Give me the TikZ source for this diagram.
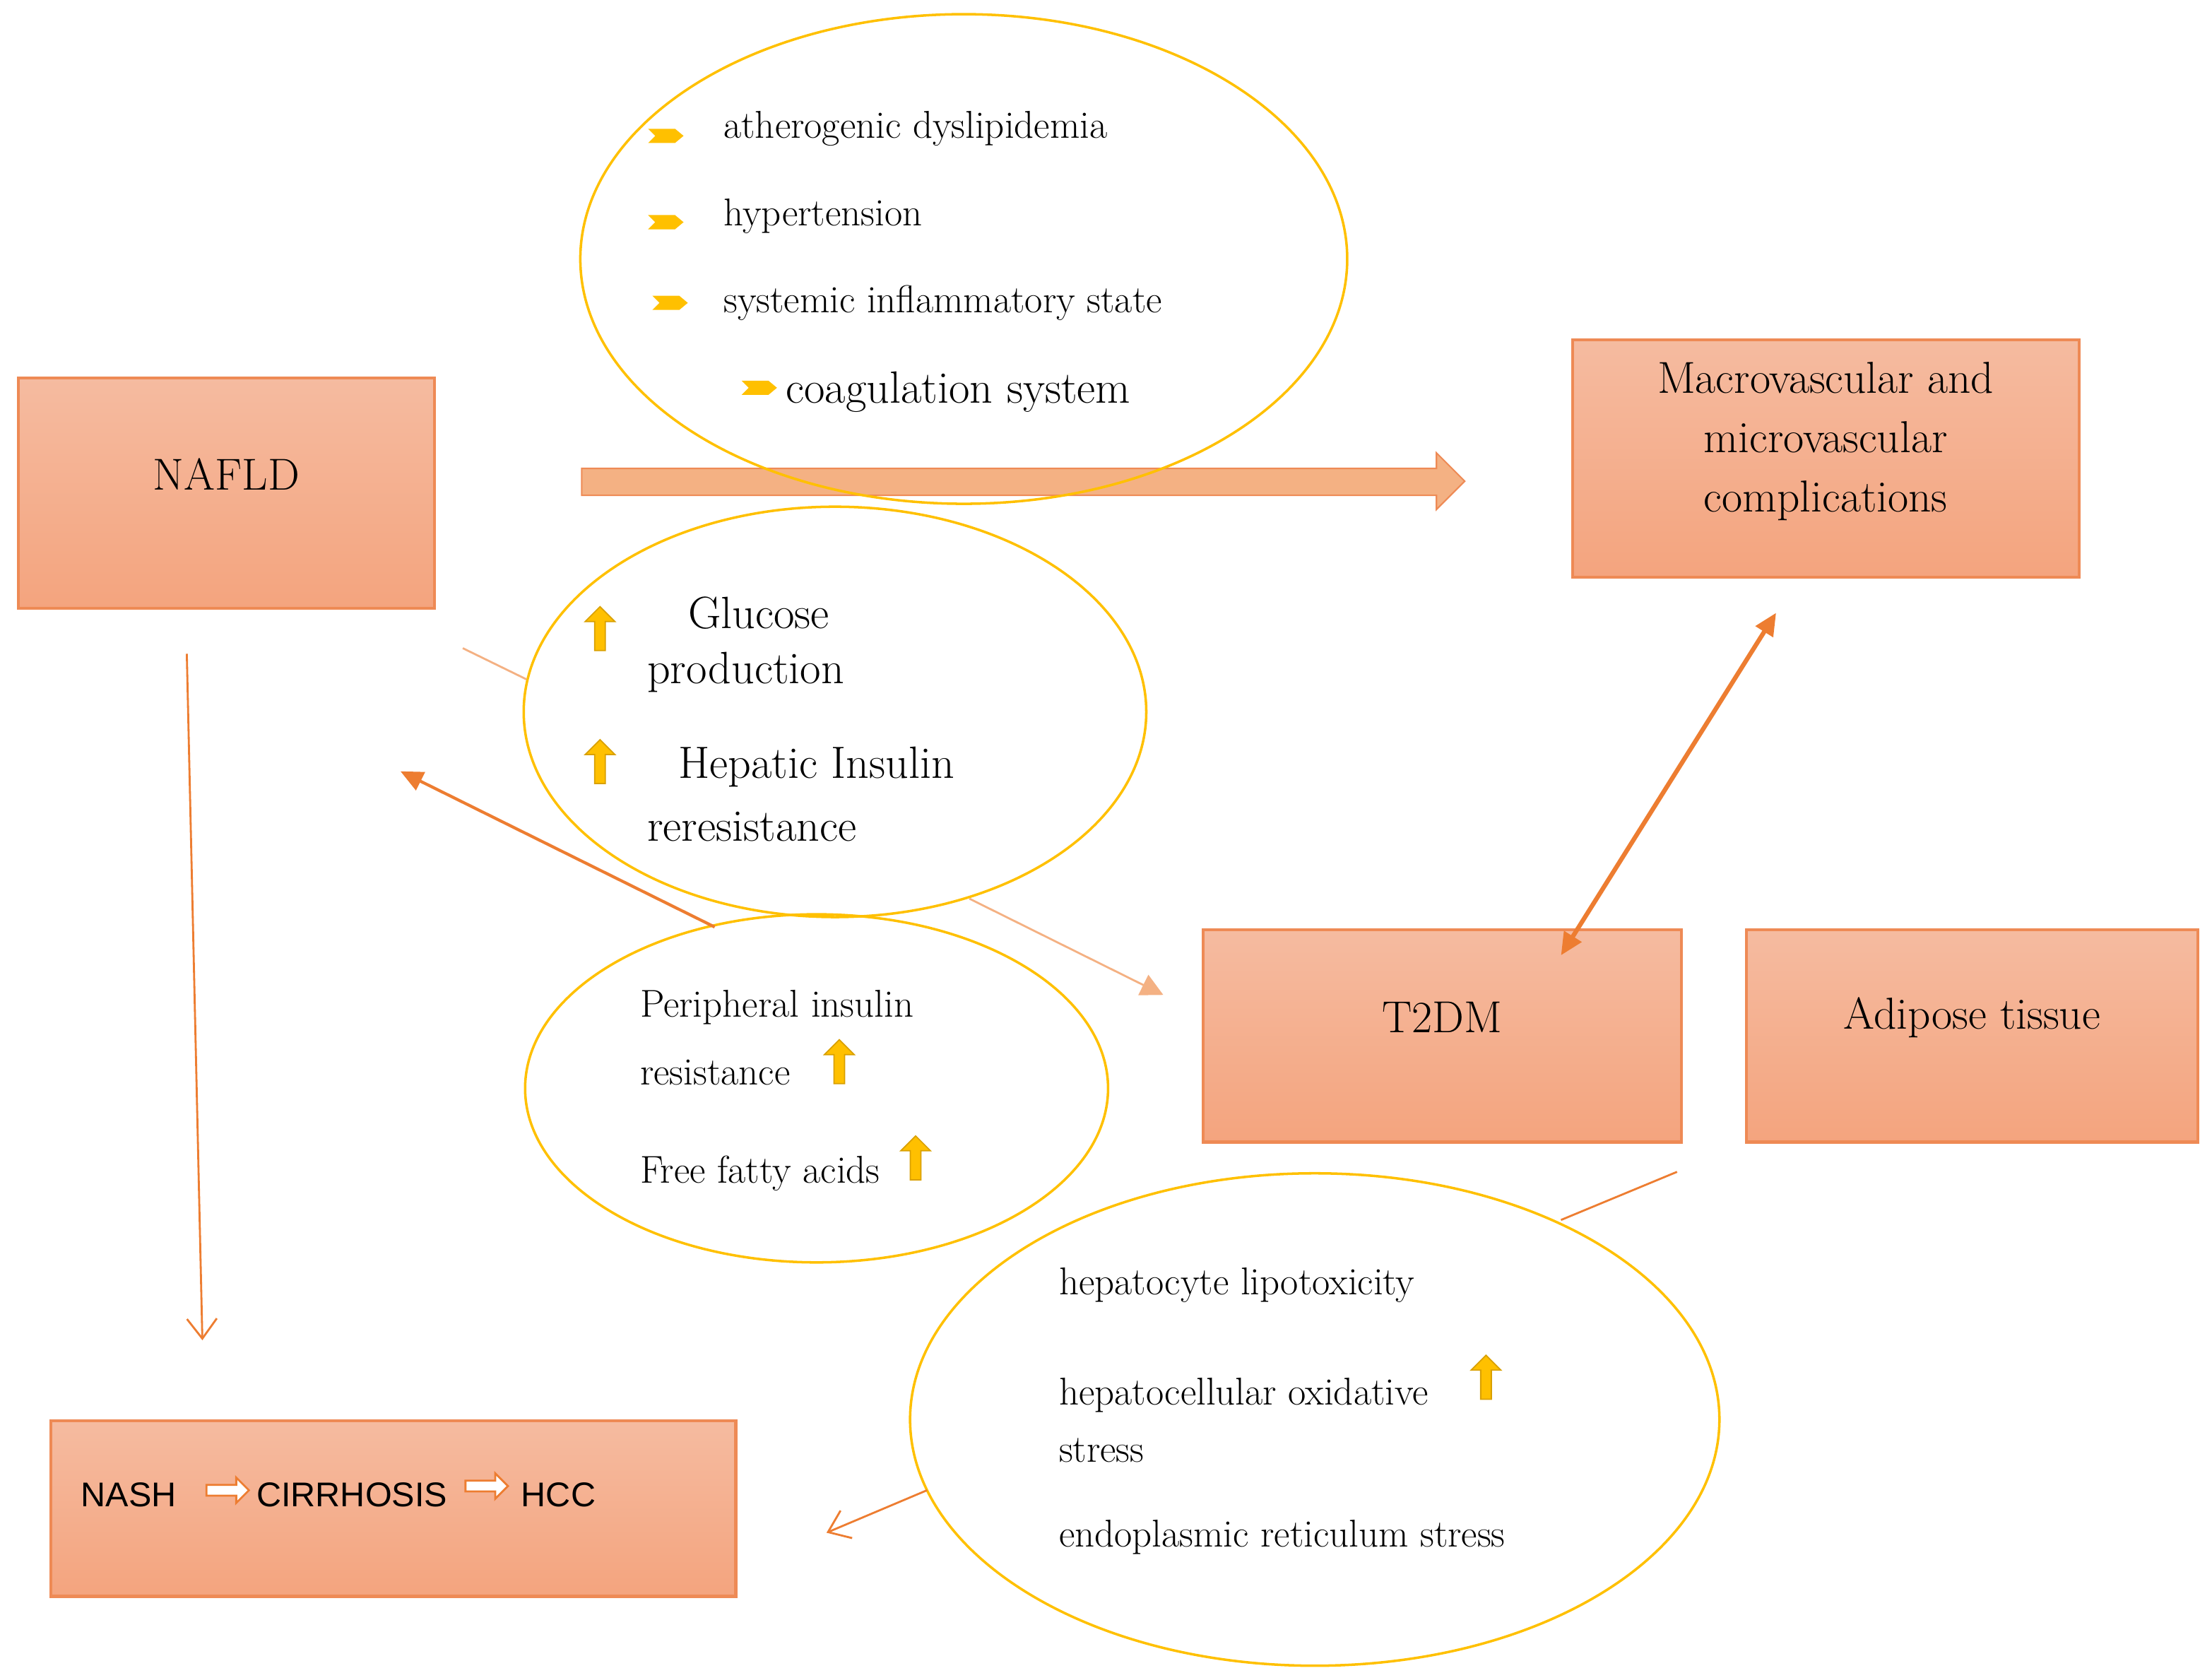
\documentclass[tikz,border=0pt]{standalone}
\usepackage{fontspec}
\newfontfamily\sansf{Liberation Sans}
\usetikzlibrary{shapes.geometric,shapes.arrows,arrows.meta}
\definecolor{box}{HTML}{F4A47E}
\definecolor{boxtop}{HTML}{F5BBA0}
\definecolor{boxline}{HTML}{EE8A55}
\definecolor{yel}{HTML}{FFC000}
\definecolor{yeld}{HTML}{D9A000}
\definecolor{ora}{HTML}{ED7D31}
\definecolor{lora}{HTML}{F4B183}
\begin{document}
\begin{tikzpicture}[x=0.02cm,y=-0.02cm,
 bx/.style={draw=boxline,line width=1.2pt,top color=boxtop,bottom color=box,inner sep=0pt},
 bt/.style={inner sep=0pt,align=center,font=\fontsize{18}{23.9}\selectfont},
 ell/.style={ellipse,draw=yel,line width=1pt,inner sep=0pt},
 tx/.style={anchor=west,inner sep=0pt,font=\fontsize{15.6}{20}\selectfont},
 txb/.style={anchor=west,inner sep=0pt,font=\fontsize{18.2}{22}\selectfont},
 sf/.style={anchor=west,inner sep=0pt,font=\sansf\fontsize{13.8}{16}\selectfont},
 up/.style={single arrow,shape border rotate=90,fill=yel,draw=yeld,line width=0.5pt,minimum height=0.62cm,minimum width=0.42cm,single arrow head extend=0.07cm,inner sep=0.03cm},
 ho/.style={single arrow,fill=white,draw=ora,line width=0.8pt,minimum height=0.6cm,minimum width=0.36cm,single arrow head extend=0.06cm,inner sep=0.03cm},
 bul/.style={fill=yel},
]
\useasboundingbox (0,0) rectangle (1563,1182);
% big arrow
\fill[lora,draw=boxline,line width=0.6pt] (411,331) -- (1015,331) -- (1015,320) -- (1035,340) -- (1015,360) -- (1015,350) -- (411,350) -- cycle;
\node[coordinate] (bigarrow) at (723,340) {};
% boxes
\node[bx,minimum width=5.88cm,minimum height=3.26cm] (nafld) at (160,348.5) {};
\node[bt] (nafldt) at (160,335) {NAFLD};
\node[bx,minimum width=7.16cm,minimum height=3.36cm] (macro) at (1290,324) {};
\node[bt] (macrot) at (1290,312) {Macrovascular and\\microvascular\\complications};
\node[bx,minimum width=6.76cm,minimum height=3.0cm] (t2dm) at (1019,732) {};
\node[bt] (t2dmt) at (1019,719) {T2DM};
\node[bx,minimum width=6.38cm,minimum height=3.0cm] (adip) at (1393.5,732) {};
\node[bt] (adipt) at (1393.5,719) {Adipose tissue};
\node[bx,minimum width=9.68cm,minimum height=2.48cm] (nash) at (278,1066) {};
\node[sf] (t1) at (57,1056) {NASH};
\node[ho] (h1) at (159,1053) {};
\node[sf] (t2) at (181,1056) {CIRRHOSIS};
\node[ho] (h2) at (342,1050) {};
\node[sf] (t3) at (368,1056) {HCC};
% ellipses
\node[ell,minimum width=10.84cm,minimum height=6.92cm] (e1) at (681,183) {};
\node[ell,minimum width=8.8cm,minimum height=5.8cm] (e2) at (590,503) {};
\node[ell,minimum width=8.24cm,minimum height=4.92cm] (e3) at (577,769) {};
\node[ell,minimum width=11.44cm,minimum height=6.96cm] (e4) at (929,1003) {};
% ellipse 1 text
\foreach \x/\y in {458/96,458/157,461/214,524/274}
  \fill[bul] (\x,\y-5) -- (\x+19,\y-5) -- (\x+25,\y) -- (\x+19,\y+5) -- (\x,\y+5) -- (\x+5,\y) -- cycle;
\node[tx] (a1) at (511,91) {atherogenic dyslipidemia};
\node[tx] (a2) at (511,153) {hypertension};
\node[tx] (a3) at (511,214) {systemic inflammatory state};
\node[txb] (a4) at (555,277) {coagulation system};
% ellipse 2
\node[up] (u1) at (424,446) {};
\node[txb] (g1) at (486,433) {Glucose};
\node[txb] (g2) at (457,475) {production};
\node[up] (u2) at (424,540) {};
\node[txb] (g3) at (479,542) {Hepatic Insulin};
\node[txb] (g4) at (457,584) {reresistance};
% ellipse 3
\node[tx] (p1) at (452,712) {Peripheral insulin};
\node[tx] (p2) at (452,758) {resistance};
\node[up] (u3) at (593,752) {};
\node[tx] (p3) at (452,829) {Free fatty acids};
\node[up] (u4) at (647,820) {};
% ellipse 4
\node[tx] (q1) at (748,908) {hepatocyte lipotoxicity};
\node[tx] (q2) at (748,986) {hepatocellular oxidative};
\node[up] (u5) at (1050,975) {};
\node[tx] (q3) at (748,1025) {stress};
\node[tx] (q4) at (748,1086) {endoplasmic reticulum stress};
% connectors
\coordinate (c1a) at (327,458); \coordinate (c1b) at (372,480);
\draw[lora,line width=0.8pt] (c1a) -- (c1b);
\coordinate (c2a) at (685,635); \coordinate (c2b) at (822,703);
\draw[lora,line width=0.8pt,-{Triangle[length=9pt,width=9pt]}] (c2a) -- (c2b);
\coordinate (c3a) at (505,655); \coordinate (c3b) at (283,545);
\draw[ora,line width=1.2pt,-{Triangle[length=9pt,width=8pt]}] (c3a) -- (c3b);
\coordinate (c4a) at (1103,675); \coordinate (c4b) at (1255,433);
\draw[ora,line width=1.8pt,{Triangle[length=9pt,width=8pt]}-{Triangle[length=9pt,width=8pt]}] (c4a) -- (c4b);
\coordinate (c5a) at (1103,862); \coordinate (c5b) at (1185,828);
\draw[ora,line width=0.8pt] (c5a) -- (c5b);
\coordinate (c6a) at (655,1053); \coordinate (c6b) at (584,1083);
\draw[ora,line width=0.8pt,-{Straight Barb[length=8pt,width=12pt]}] (c6a) -- (c6b);
\coordinate (c7a) at (132,462); \coordinate (c7b) at (143,947);
\draw[ora,line width=0.8pt,-{Straight Barb[length=8pt,width=12pt]}] (c7a) -- (c7b);
\end{tikzpicture}
\end{document}
